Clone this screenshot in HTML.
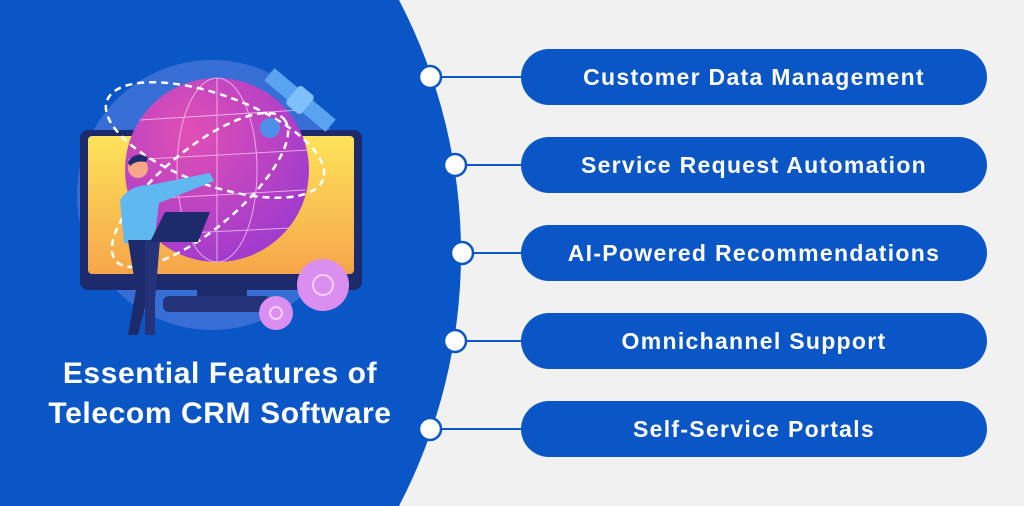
<!DOCTYPE html>
<html><head><meta charset="utf-8"><style>
html,body{margin:0;padding:0;overflow:hidden}
body{width:1024px;height:506px;overflow:hidden;background:#f1f1f1;position:relative;font-family:"Liberation Sans",sans-serif}
.pill{position:absolute;left:521px;width:466px;height:56px;border-radius:28px;background:#0a56c6;color:#fff;font-size:23px;font-weight:bold;display:flex;align-items:center;justify-content:center;letter-spacing:1.3px}
.title{position:absolute;left:20px;width:400px;top:354px;color:#fff;font-size:30px;font-weight:bold;line-height:40px;text-align:center;letter-spacing:0.6px}
</style></head><body>
<svg width="1024" height="506" viewBox="0 0 1024 506" style="position:absolute;left:0;top:0;overflow:hidden">
<defs>
<linearGradient id="scr" x1="0" y1="0" x2="0" y2="1"><stop offset="0" stop-color="#fde35a"/><stop offset="1" stop-color="#f6a54a"/></linearGradient>
<radialGradient id="glb" cx="0.35" cy="0.3" r="0.8"><stop offset="0" stop-color="#e14fb4"/><stop offset="1" stop-color="#9a3ad0"/></radialGradient>
</defs>
<path d="M0 0 L399 0 A547 547 0 0 1 399 506 L0 506 Z" fill="#0a56c6"/>
<g stroke="#0a56c6" stroke-width="2">
<line x1="430" y1="77" x2="521" y2="77"/><line x1="455" y1="165" x2="521" y2="165"/><line x1="462" y1="253" x2="521" y2="253"/><line x1="455" y1="341" x2="521" y2="341"/><line x1="430" y1="429" x2="521" y2="429"/>
</g>
<g fill="#fff" stroke="#0a56c6" stroke-width="2.5">
<circle cx="430" cy="77" r="11"/><circle cx="455" cy="165" r="11"/><circle cx="462" cy="253" r="11"/><circle cx="455" cy="341" r="11"/><circle cx="430" cy="429" r="11"/>
</g>
<circle cx="212" cy="195" r="135" fill="#3f72d8" opacity="0.85"/>
<rect x="80" y="130" width="282" height="160" rx="8" fill="#1d2a6b"/>
<rect x="88" y="136" width="266" height="138" rx="4" fill="url(#scr)"/>
<rect x="197" y="288" width="50" height="12" fill="#1d2a6b"/>
<rect x="163" y="296" width="108" height="16" rx="6" fill="#25337a"/>
<circle cx="217" cy="170" r="92" fill="url(#glb)"/>
<g fill="none" stroke="#f5c4ef" stroke-width="1" opacity="0.8">
<ellipse cx="217" cy="170" rx="40" ry="92"/><line x1="217" y1="78" x2="217" y2="262"/>
<line x1="140" y1="120" x2="300" y2="110"/><line x1="128" y1="160" x2="308" y2="150"/><line x1="128" y1="200" x2="305" y2="190"/><line x1="145" y1="235" x2="290" y2="228"/>
</g>
<g fill="none" stroke="#fff" stroke-width="2.5" stroke-dasharray="7 5">
<ellipse cx="215" cy="140" rx="115" ry="45" transform="rotate(20 215 140)"/>
<ellipse cx="200" cy="190" rx="110" ry="40" transform="rotate(-40 200 190)"/>
</g>
<g transform="rotate(40 300 100)">
<rect x="260" y="92" width="30" height="16" fill="#5aa3f0"/><rect x="310" y="92" width="30" height="16" fill="#5aa3f0"/>
<rect x="290" y="88" width="20" height="24" rx="4" fill="#7dc0fa"/>
</g>
<circle cx="270" cy="128" r="10" fill="#4f8fe8"/>
<circle cx="323" cy="285" r="26" fill="#d98ef0"/><circle cx="323" cy="285" r="10" fill="none" stroke="#f5d0fa" stroke-width="2"/>
<circle cx="276" cy="313" r="17" fill="#d98ef0"/><circle cx="276" cy="313" r="6" fill="none" stroke="#f5d0fa" stroke-width="2"/>
<circle cx="138" cy="168" r="10" fill="#f4a58a"/><path d="M128 162 q8-12 20-4 l-2 4 q-10-2-16 4z" fill="#1d2a6b"/>
<path d="M120 200 q10-15 30-15 l60-12 4 8 -55 22 -5 40 -30 0z" fill="#5fb8ef"/>
<path d="M128 240 l30 0 -10 55 -10 40 -10 0 8-45z" fill="#1d2a6b"/>
<path d="M145 240 l15 0 -5 60 0 35 -10 0z" fill="#25337a"/>
<path d="M165 212 l45 0 -12 30 -48 0z" fill="#1d2a6b"/>
</svg>
<div class="title">Essential Features of<br>Telecom CRM Software</div>
<div class="pill" style="top:49px">Customer Data Management</div>
<div class="pill" style="top:137px">Service Request Automation</div>
<div class="pill" style="top:225px">AI-Powered Recommendations</div>
<div class="pill" style="top:313px">Omnichannel Support</div>
<div class="pill" style="top:401px">Self-Service Portals</div>
</body></html>
